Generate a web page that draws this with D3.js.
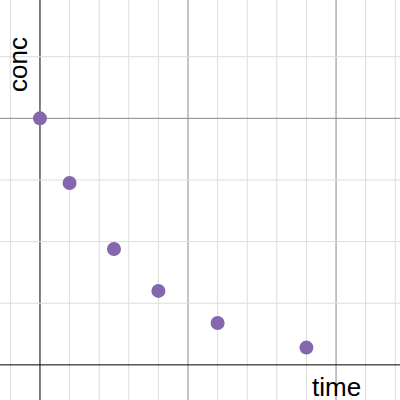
<!DOCTYPE html>
<html><head><script src="https://cdn.jsdelivr.net/npm/d3@7"></script>
<style>body{margin:0;background:#fff}</style></head>
<body><svg width="400" height="400"></svg>
<script>
const timeVals=[0,1,2.5,4,6,9];
const concVals=[4,2.95,1.88,1.2,0.68,0.28];
const xLabel="time", yLabel="conc";
const svg=d3.select("svg");
const x=d3.scaleLinear().domain([-1.35,12.16]).range([0,400]);
const y=d3.scaleLinear().domain([-0.57,5.92]).range([400,0]);
const xt=d3.range(-1,13), yt=d3.range(0,6);
svg.selectAll(".vx").data(xt).enter().append("line")
 .attr("x1",d=>x(d)).attr("x2",d=>x(d)).attr("y1",0).attr("y2",400)
 .attr("stroke",d=>d===0?"#000":(d%5===0?"#888":"#ddd")).attr("stroke-width",1);
svg.selectAll(".hy").data(yt).enter().append("line")
 .attr("y1",d=>y(d)).attr("y2",d=>y(d)).attr("x1",0).attr("x2",400)
 .attr("stroke",d=>d===0?"#000":(d%4===0?"#888":"#ddd")).attr("stroke-width",1);
svg.selectAll("circle").data(timeVals).enter().append("circle")
 .attr("cx",d=>x(d)).attr("cy",(d,i)=>y(concVals[i])).attr("r",7).attr("fill","#8467ad");
svg.append("text").text(xLabel).attr("x",312).attr("y",396).attr("font-family","Liberation Sans, Arial").attr("font-size",26);
svg.append("text").text(yLabel).attr("transform","translate(27,92) rotate(-90)").attr("font-family","Liberation Sans, Arial").attr("font-size",26);
</script></body></html>
